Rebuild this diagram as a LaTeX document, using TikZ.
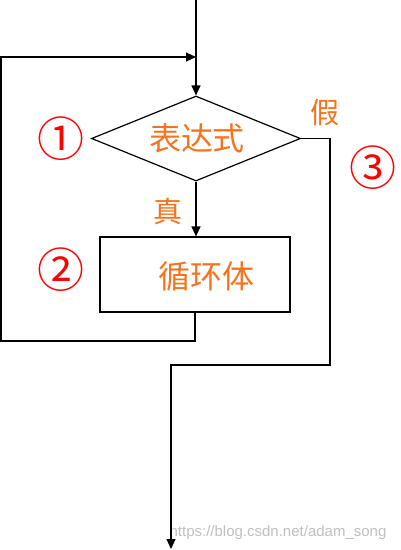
\documentclass[tikz,border=0pt]{standalone}
\usepackage{fontspec}
\newfontfamily\cjk{Noto Sans CJK SC}
\newfontfamily\wmfont{Liberation Sans}
\usetikzlibrary{shapes.geometric,arrows.meta}
\definecolor{txtorange}{RGB}{245,115,30}
\definecolor{numred}{RGB}{255,0,0}
\begin{document}
\begin{tikzpicture}[x=1pt,y=-1pt,
  line/.style={draw=black,line width=1.2pt},
  arr/.style={line,-{Triangle[length=10pt,width=9pt]}},
  cond/.style={diamond,draw=black,line width=1.2pt,aspect=2.46,inner sep=0pt,
     minimum width=209pt,minimum height=85pt},
  bodybox/.style={rectangle,draw=black,line width=1.2pt,minimum width=190pt,minimum height=75pt,inner sep=0pt},
  otxt/.style={text=txtorange,font=\cjk\fontsize{32}{32}\selectfont,inner sep=0pt},
  stxt/.style={text=txtorange,font=\cjk\fontsize{29}{29}\selectfont,inner sep=0pt},
  num/.style={text=numred,font=\cjk\fontsize{47}{47}\selectfont,inner sep=0pt},
  wm/.style={text=black!25,font=\wmfont\fontsize{15}{15}\selectfont,inner sep=0pt}]
\useasboundingbox (0,0) rectangle (400,550);
% nodes
\node[cond] (cond) at (196,138.5) {};
\node[otxt] (condtxt) at (197,138) {表达式};
\node[bodybox] (body) at (195,274.5) {};
\node[otxt] (bodytxt) at (206,276) {循环体};
\node[stxt] (true) at (168,211) {真};
\node[stxt] (false) at (325,113) {假};
\node[num] (n1) at (61,139) {①};
\node[num] (n2) at (61,270) {②};
\node[num] (n3) at (373,168) {③};
\node[wm] (wmk) at (278,533) {https://blog.csdn.net/adam\_song};
% coordinates
\coordinate (top) at (196,0);
\coordinate (join) at (196,57);
\coordinate (lb) at (1,341);
\coordinate (lt) at (1,57);
\coordinate (fr) at (330,365);
\coordinate (fl) at (171,365);
\coordinate (out) at (171,549);
% connectors
\draw[arr] (top) -- (cond.north);
\draw[arr] (body.south) |- (lb) -- (lt) -- (join);
\draw[arr] (cond.south) -- (cond.south |- body.north);
\draw[arr] (cond.east) -| (fr) -- (fl) -- (out);
\end{tikzpicture}
\end{document}
